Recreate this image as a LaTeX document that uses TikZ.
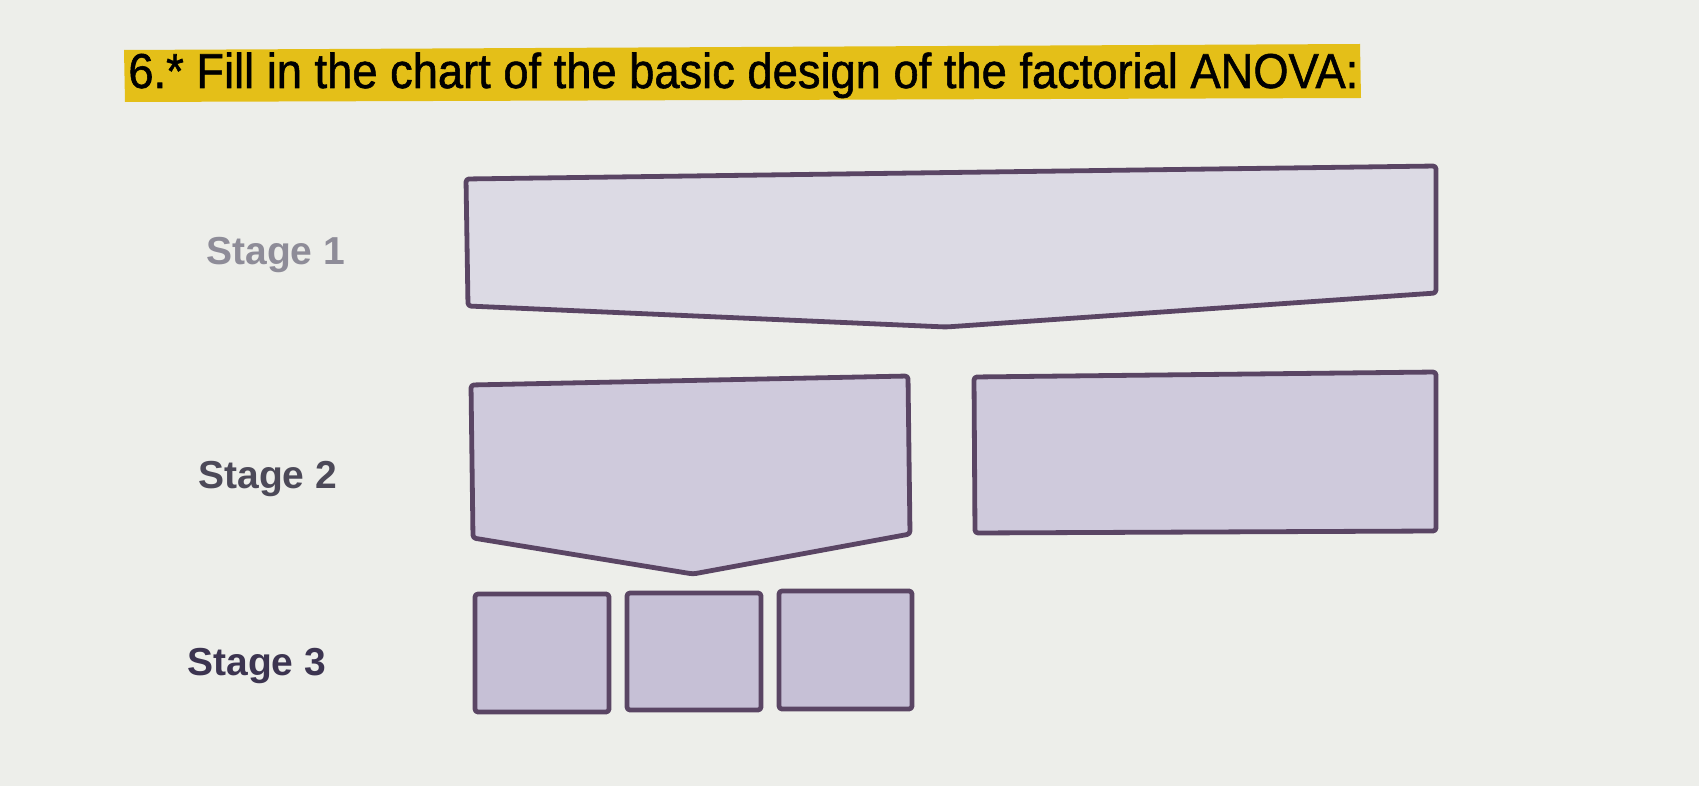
\documentclass[tikz,border=0pt]{standalone}
\usepackage{graphicx}
\usepackage{fontspec}
\setmainfont{Liberation Sans}
\newfontfamily\titlefont{Liberation Sans}[FakeBold=1.2]
\definecolor{bgc}{HTML}{EDEEEA}
\definecolor{hl}{HTML}{E4BF18}
\definecolor{edge}{HTML}{5A4564}
\definecolor{fillA}{HTML}{DCDAE4}
\definecolor{fillB}{HTML}{CFCADC}
\definecolor{fillC}{HTML}{C6C0D6}
\definecolor{lab1}{HTML}{8E8C98}
\definecolor{lab2}{HTML}{4C4958}
\definecolor{lab3}{HTML}{3C3450}
\tikzset{
  chartbox/.style={draw=edge, line width=2.4pt, rounded corners=1.5pt, line join=round},
  stagelabel/.style={anchor=west, font=\fontsize{19.5pt}{22pt}\selectfont\bfseries, inner sep=0pt},
}
\begin{document}
\begin{tikzpicture}[x=0.5pt,y=-0.5pt]
\useasboundingbox (0,0) rectangle (1699,786);
\fill[bgc] (0,0) rectangle (1699,786);
% title
\fill[hl] (124,50) -- (1360,44) -- (1361,98) -- (125,102) -- cycle;
\node[anchor=base west, inner sep=0pt] (title) at (128,88)
  {\resizebox{615pt}{\height}{\titlefont\fontsize{24.5pt}{28pt}\selectfont 6.* Fill in the chart of the basic design of the factorial ANOVA:}};
% stage labels
\node[stagelabel, text=lab1] (s1) at (206,255) {Stage 1};
\node[stagelabel, text=lab2] (s2) at (198,479) {Stage 2};
\node[stagelabel, text=lab3] (s3) at (187,666) {Stage 3};
% stage 1 box
\filldraw[chartbox, fill=fillA] (466,179) -- (1436,166) -- (1436,293) -- (946,327) -- (468,306) -- cycle;
% stage 2 boxes
\filldraw[chartbox, fill=fillB] (471,385) -- (908,376) -- (910,534) -- (693,574) -- (473,538) -- cycle;
\filldraw[chartbox, fill=fillB] (974,377) -- (1436,372) -- (1436,531) -- (975,533) -- cycle;
% stage 3 boxes
\filldraw[chartbox, fill=fillC] (475,594) rectangle (609,712);
\filldraw[chartbox, fill=fillC] (627,593) rectangle (761,710);
\filldraw[chartbox, fill=fillC] (779,591) rectangle (912,709);
\end{tikzpicture}
\end{document}
